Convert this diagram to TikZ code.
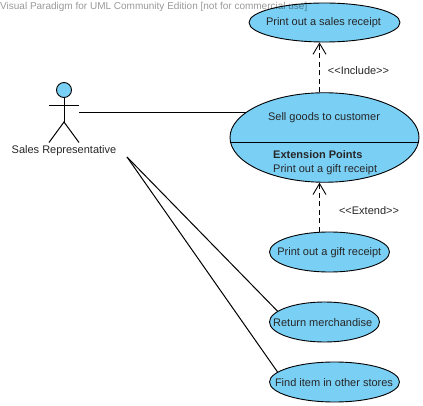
\documentclass[tikz,border=0pt]{standalone}
\usepackage{fontspec}
\setmainfont{Liberation Sans}
\usetikzlibrary{shapes.geometric,arrows.meta}
\definecolor{ucfill}{HTML}{7ACFF5}
\tikzset{
  usecase/.style={ellipse,draw=black,fill=ucfill,line width=0.9pt,inner sep=0pt},
  lbl/.style={inner sep=0pt,font=\fontsize{11}{13}\selectfont,text=black!85},
  assoc/.style={draw=black,line width=1pt},
  dep/.style={draw=black,line width=0.9pt,dash pattern=on 5pt off 3.5pt,-{Straight Barb[length=11pt,width=13pt,line width=0.9pt]}},
}
\begin{document}
\begin{tikzpicture}[x=1pt,y=-1pt]
\useasboundingbox (0,0) rectangle (423,406);
% use cases
\node[usecase,minimum width=151pt,minimum height=39pt] (receipt) at (324.5,22.5) {};
\node[usecase,minimum width=189pt,minimum height=89.5pt] (sell) at (324.5,137.5) {};
\node[usecase,minimum width=120pt,minimum height=40pt] (gift) at (329.5,252) {};
\node[usecase,minimum width=110pt,minimum height=40pt] (return) at (324.5,322) {};
\node[usecase,minimum width=130pt,minimum height=40pt] (find) at (334.5,382) {};
\node[lbl] (receiptname) at (323.5,22.5) {Print out a sales receipt};
\node[lbl] (giftname) at (329.3,252.5) {Print out a gift receipt};
\node[lbl] (returnname) at (322.7,322.5) {Return merchandise};
\node[lbl] (findname) at (334,382.5) {Find item in other stores};
% sell compartments
\coordinate (divider) at (324.5,142.3);
\draw[assoc] (sell.west |- divider) -- (sell.east |- divider);
\node[lbl] (sellname) at (324,117.5) {Sell goods to customer};
\node[lbl,font=\fontsize{11}{13}\selectfont\bfseries,anchor=west] (ext) at (273,154.8) {Extension Points};
\node[lbl,anchor=west] (extitem) at (273,169.8) {Print out a gift receipt};
% actor
\node[circle,draw=black,fill=ucfill,line width=0.9pt,inner sep=0pt,minimum size=15pt] (head) at (64,90) {};
\coordinate (hip) at (64,122);
\coordinate (armL) at (49,106);
\coordinate (armR) at (79,106);
\coordinate (legL) at (49,142.5);
\coordinate (legR) at (79,142.5);
\draw[assoc] (head.south) -- (hip);
\draw[assoc] (armL) -- (armR);
\draw[assoc] (legL) -- (hip) -- (legR);
\node[lbl] (actor) at (64,151) {Sales Representative};
% connectors
\coordinate (actorE) at (79,112);
\coordinate (actorS) at (127,157);
\draw[assoc] (actorE |- sell.162) -- (sell.162);
\draw[assoc] (actorS) -- (return.167);
\draw[assoc] (actorS) -- (find.170);
\coordinate (depx) at (319.5,100);
\draw[dep] (depx |- sell.north) -- (depx |- receipt.south);
\draw[dep] (depx |- gift.north) -- (depx |- sell.south);
\node[lbl] (inc) at (358.5,70.5) {<{}<Include>{}>};
\node[lbl] (exd) at (369,210.5) {<{}<Extend>{}>};
% watermark
\node[inner sep=0pt,anchor=west,text=black,opacity=0.4,font=\fontsize{10}{12}\selectfont] (wm) at (0,7) {Visual Paradigm for UML Community Edition [not for commercial use]};
\end{tikzpicture}
\end{document}
